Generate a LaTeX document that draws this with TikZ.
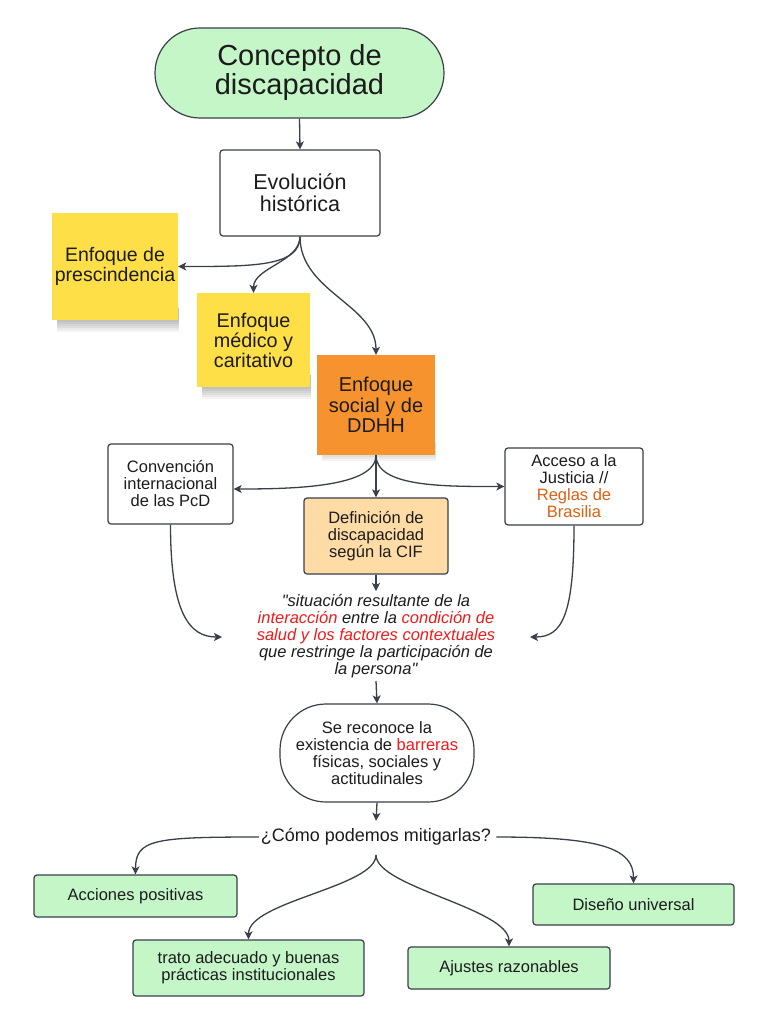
\documentclass[tikz,border=0pt]{standalone}
\usepackage{fontspec}
\setmainfont{Liberation Sans}
\newfontfamily\qfont{Liberation Sans}
\usetikzlibrary{arrows.meta}
\definecolor{linec}{HTML}{3A4049}
\definecolor{greenf}{HTML}{C4F6C8}
\definecolor{yellowf}{HTML}{FFDF48}
\definecolor{orangef}{HTML}{F7932F}
\definecolor{peachf}{HTML}{FFDBA5}
\definecolor{redt}{HTML}{EE1B1B}
\definecolor{oranget}{HTML}{DC6112}
\definecolor{txt}{HTML}{1C1C1C}
\pgfdeclarelayer{back}
\pgfdeclarelayer{shadowlayer}
\pgfsetlayers{back,shadowlayer,main}
\newcommand{\softshade}[2]{% node, max depth
  \foreach \d in {2,4,...,#2}{
    \fill[black,opacity=.045]
      ([xshift=5pt,yshift=-\d pt]#1.south west) rectangle ([xshift=1pt,yshift=12pt]#1.south east);
  }}
\begin{document}
\begin{tikzpicture}[x=1pt,y=-1pt,
  box/.style={draw=linec, line width=1.2pt, rounded corners=3pt, align=center, inner sep=0pt, text=txt},
  sticky/.style={align=center, inner sep=0pt, text=txt},
  arr/.style={draw=linec, line width=1.3pt, -{Stealth[length=8pt,width=8pt,inset=2pt]}},
  midfont/.style={font=\fontsize{16.5}{17}\selectfont},
  botfont/.style={font=\fontsize{16.5}{17}\selectfont},
  ]
\begin{pgfonlayer}{back}
\fill[white] (0,0) rectangle (768,1024);
\end{pgfonlayer}
\useasboundingbox (0,0) rectangle (768,1024);

% top
\node[box, fill=greenf, rounded corners=45pt, minimum width=289pt, minimum height=90pt,
  font=\fontsize{29}{29}\selectfont] (concepto) at (299.5,73) {Concepto de\\discapacidad};
\node[box, fill=white, minimum width=160pt, minimum height=86pt,
  font=\fontsize{21.5}{22}\selectfont] (evol) at (300,193) {Evolución\\histórica};

% sticky notes
\node[sticky, fill=yellowf, minimum width=126pt, minimum height=107pt,
  font=\fontsize{19.5}{20}\selectfont] (presc) at (115,266.5) {Enfoque de\\prescindencia};
\node[sticky, fill=yellowf, minimum width=113pt, minimum height=94pt,
  font=\fontsize{19.8}{20}\selectfont] (medico) at (253.5,340) {Enfoque\\médico y\\caritativo};
\node[sticky, fill=orangef, minimum width=118pt, minimum height=100pt,
  font=\fontsize{20}{20.5}\selectfont] (social) at (376,405) {Enfoque\\social y de\\DDHH};

\begin{pgfonlayer}{shadowlayer}
\softshade{presc}{12}
\softshade{medico}{12}
\softshade{social}{6}
\end{pgfonlayer}

% middle row
\node[box, fill=white, minimum width=125pt, minimum height=80pt, midfont] (conv) at (170.5,484)
  {Convención\\internacional\\de las PcD};
\node[box, fill=peachf, minimum width=144pt, minimum height=76pt, midfont] (defin) at (376,536)
  {Definición de\\discapacidad\\según la CIF};
\node[box, fill=white, minimum width=138pt, minimum height=77pt, midfont] (acceso) at (574,486.5)
  {Acceso a la\\Justicia //\\\textcolor{oranget}{Reglas de}\\\textcolor{oranget}{Brasilia}};

% quote
\node[align=center, inner sep=3pt, text=txt, font=\qfont\fontsize{16.5}{17}\selectfont\itshape] (quote) at (376,636)
  {"situación resultante de la\\
   \textcolor{redt}{interacción} entre la \textcolor{redt}{condición de}\\
   \textcolor{redt}{salud y los factores contextuales}\\
   que restringe la participación de\\
   la persona"};

\coordinate (qL) at (222,637);
\coordinate (qR) at (530,637);

% barreras
\node[box, fill=white, rounded corners=46pt, minimum width=194pt, minimum height=98pt, midfont] (recon) at (377,753)
  {Se reconoce la\\existencia de \textcolor{redt}{barreras}\\físicas, sociales y\\actitudinales};

\node[inner sep=0pt, minimum height=32pt, text=txt, font=\fontsize{18}{19}\selectfont] (como) at (376,837)
  {¿Cómo podemos mitigarlas?};
\coordinate (fork) at (376,855);

% bottom boxes
\node[box, fill=greenf, minimum width=203pt, minimum height=42pt, botfont] (acc) at (135.5,896) {Acciones positivas};
\node[box, fill=greenf, minimum width=201pt, minimum height=41pt, botfont] (dis) at (633.5,904.5) {Diseño universal};
\node[box, fill=greenf, minimum width=231pt, minimum height=56pt, botfont] (trato) at (248.5,968)
  {trato adecuado y buenas\\prácticas institucionales};
\node[box, fill=greenf, minimum width=202pt, minimum height=42pt, botfont] (ajus) at (509,968) {Ajustes razonables};

% connectors
\draw[arr] (concepto.south) -- (evol.north);
\draw[arr] (evol.south) .. controls +(0,30) and +(75,0) .. (presc.east);
\draw[arr] (evol.south) .. controls +(0,25) and +(0,-25) .. (medico.north);
\draw[arr] (evol.south) .. controls +(0,55) and +(0,-50) .. (social.north);

\draw[arr] (social.south) .. controls +(0,32) and +(60,0) .. ([yshift=-5pt]conv.east);
\draw[arr] (social.south) -- (defin.north);
\draw[arr] (social.south) .. controls +(0,32) and +(-60,0) .. (acceso.west);

\draw[arr] (defin.south) -- (quote.north);
\draw[arr] (conv.south) .. controls +(0,90) and +(-32,0) .. (qL);
\draw[arr] (acceso.south) .. controls +(0,90) and +(32,0) .. (qR);

\draw[arr] (quote.south) -- (recon.north);
\draw[arr] (recon.south) -- (como.north);

\draw[arr] ([xshift=-2pt]como.west) .. controls +(-105,0) and +(0,-35) .. (acc.north);
\draw[arr] ([xshift=5pt]como.east) .. controls +(105,0) and +(0,-35) .. (dis.north);
\draw[arr] (fork) .. controls +(0,32) and +(0,-38) .. (trato.north);
\draw[arr] (fork) .. controls +(0,32) and +(0,-38) .. (ajus.north);
\end{tikzpicture}
\end{document}
